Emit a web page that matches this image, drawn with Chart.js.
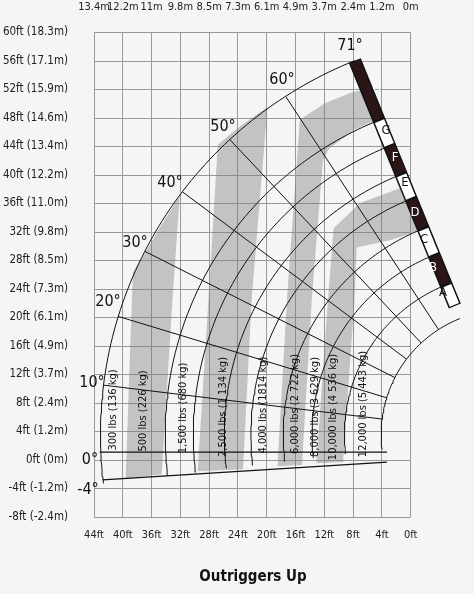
<!DOCTYPE html>
<html>
<head>
<meta charset="utf-8">
<script src="https://cdn.jsdelivr.net/npm/chart.js@4/dist/chart.umd.min.js"></script>
<style>
  body { margin: 0; background: #f5f5f5; }
  #wrap { width: 474px; height: 594px; }
</style>
</head>
<body>
<div id="wrap"><canvas id="chart"></canvas></div>
<script>
// axes
const xTicksFt = [44, 40, 36, 32, 28, 24, 20, 16, 12, 8, 4, 0];
const xTicksM = ['13.4m', '12.2m', '11m', '9.8m', '8.5m', '7.3m', '6.1m', '4.9m', '3.7m', '2.4m', '1.2m', '0m'];
const yTicksFt = [60, 56, 52, 48, 44, 40, 36, 32, 28, 24, 20, 16, 12, 8, 4, 0, -4, -8];
const yTicksM = ['18.3m', '17.1m', '15.9m', '14.6m', '13.4m', '12.2m', '11.0m', '9.8m', '8.5m', '7.3m', '6.1m', '4.9m', '3.7m', '2.4m', '1.2m', '0m', '-1.2m', '-2.4m'];

// boom geometry (ft), drawn angles are label angle minus 3
const pivot = { x: -13.4, y: 3.6 };
const arcRadii = [56.5, 47.5, 43.6, 39.3, 35.6, 31.1, 27.1, 22.6, 17.5];
const angleLabels = [71, 60, 50, 40, 30, 20, 10, 0, -4];
const radialAngles = [60, 50, 40, 30, 20, 10];
const zeroLine = [[43.2, 1.1], [3.3, 1.1]];
const floorLine = [[42.8, -2.8], [3.3, -0.3]];
const boomSections = ['A', 'B', 'C', 'D', 'E', 'F', 'G', 'H'];
const boomBounds = [19.4, 22.6, 27.1, 31.1, 35.6, 39.3, 43.6, 47.5, 56.5];

// load zones
const loadLabels = ['300 lbs (136 kg)', '500 lbs (226 kg)', '1,500 lbs (680 kg)', '2,500 lbs (1 134 kg)',
  '4,000 lbs (1814 kg)', '6,000 lbs (2 722 kg)', '8,000 lbs (3 629 kg)', '10,000 lbs (4 536 kg)', '12,000 lbs (5 443 kg)'];
const band1 = [[39.6, -2.6], [38.6, 26.3], [36.9, 29.1], [34.9, 32.5], [32.1, 37.0], [33.1, 22.4], [34.6, -2.0]];
const band2 = [[29.6, -1.6], [28.1, 22.4], [26.8, 44.2], [23.8, 46.7], [19.9, 49.5], [22.1, 22.4], [23.3, -1.3]];
const band3 = [[18.5, -0.9], [17.2, 22.4], [15.4, 47.7], [11.9, 50.0], [8.5, 51.4], [5.4, 52.3], [3.9, 48.1],
  [7.8, 46.3], [11.3, 43.7], [12.2, 42.0], [13.75, 22.4], [15.1, -0.7]];
const band4 = [[13.1, -0.45], [11.5, 22.4], [10.7, 32.5], [7.1, 36.0], [1.5, 38.1], [-1.0, 32.0],
  [2.9, 30.8], [7.5, 29.8], [7.8, 22.4], [9.4, -0.3]];

const FONT = '"DejaVu Sans Condensed", "Liberation Sans Narrow", sans-serif';
const rad = d => (d - 3) * Math.PI / 180;
const polar = (r, deg) => ({ x: pivot.x + r * Math.cos(rad(deg)), y: pivot.y + r * Math.sin(rad(deg)) });

function arcPoints(r) {
  const pts = [];
  for (let a = -4; a <= 71; a += 1) pts.push(polar(r, a));
  return pts;
}

const toPts = list => list.map(p => ({ x: p[0], y: p[1] }));

const datasets = [];
[band1, band2, band3, band4].forEach(b => {
  const pts = toPts(b);
  pts.push(pts[0]);
  datasets.push({ data: pts, borderWidth: 0, borderColor: 'rgba(0,0,0,0)',
    backgroundColor: 'rgba(120,120,120,0.4)', fill: 'shape', order: 10 });
});
arcRadii.forEach(r => {
  datasets.push({ data: arcPoints(r), borderColor: '#111', borderWidth: 1, fill: false, order: 5 });
});
radialAngles.forEach(a => {
  datasets.push({ data: [polar(17.5, a), polar(56.5, a)], borderColor: '#111', borderWidth: 1, fill: false, order: 5 });
});
[zeroLine, floorLine].forEach(l => {
  datasets.push({ data: toPts(l), borderColor: '#111', borderWidth: 1.2, fill: false, order: 5 });
});
// boom outline then sections
datasets.push({ data: [polar(boomBounds[0], 71), polar(boomBounds[8], 71)], borderColor: '#111',
  borderWidth: 13, fill: false, order: 2 });
boomSections.forEach((s, i) => {
  datasets.push({ data: [polar(boomBounds[i] + 0.15, 71), polar(boomBounds[i + 1] - 0.15, 71)],
    borderColor: i % 2 ? '#2a1616' : '#ffffff', borderWidth: 10, borderCapStyle: 'butt', fill: false, order: 1 });
});

const textPlugin = {
  id: 'texts',
  beforeDatasetsDraw(chart) {
    const { ctx, scales: { x, y } } = chart;
    ctx.save();
    ctx.strokeStyle = '#999';
    ctx.lineWidth = 1;
    yTicksFt.forEach(v => {
      const py = Math.round(y.getPixelForValue(v)) + 0.5;
      ctx.beginPath();
      ctx.moveTo(x.getPixelForValue(44), py);
      ctx.lineTo(x.getPixelForValue(0), py);
      ctx.stroke();
    });
    ctx.restore();
  },
  afterDatasetsDraw(chart) {
    const { ctx } = chart;
    ctx.save();
    ctx.fillStyle = '#111';
    ctx.textAlign = 'center';
    ctx.textBaseline = 'middle';
    ctx.font = '16px ' + FONT;
    const anglePos = [[350, 46], [282, 80], [223, 127], [170, 183], [135, 243], [108, 302], [92, 383], [90, 460], [88, 490]];
    angleLabels.forEach((a, i) => ctx.fillText(a + '°', anglePos[i][0], anglePos[i][1]));
    ctx.font = '13px ' + FONT;
    const letterPos = [[443, 293], [433, 268], [424, 240], [415, 213], [405, 183], [395, 158], [386, 131], [377, 87]];
    boomSections.forEach((s, i) => {
      ctx.fillStyle = i % 2 ? '#fff' : '#111';
      ctx.fillText(s, letterPos[i][0], letterPos[i][1]);
    });
    ctx.fillStyle = '#111';
    ctx.font = '11px ' + FONT;
    const loadX = [113, 143, 183, 223, 263, 295, 315, 333, 363];
    const loadY = [410, 411, 408, 407, 405, 404, 407, 407, 404];
    loadLabels.forEach((t, i) => {
      ctx.save();
      ctx.translate(loadX[i], loadY[i]);
      ctx.rotate(-Math.PI / 2);
      ctx.fillText(t, 0, 0);
      ctx.restore();
    });
    ctx.font = 'bold 15px ' + FONT;
    ctx.fillText('Outriggers Up', 253, 577);
    ctx.restore();
  }
};

const ftTicks = axis => { axis.ticks = xTicksFt.map(v => ({ value: v })); };
const tickFont = { family: FONT, size: 11 };

new Chart(document.getElementById('chart'), {
  type: 'line',
  data: { datasets },
  options: {
    responsive: true,
    maintainAspectRatio: false,
    animation: false,
    elements: { point: { radius: 0 }, line: { tension: 0 } },
    layout: { padding: 0 },
    plugins: { legend: { display: false }, tooltip: { enabled: false } },
    scales: {
      x: {
        type: 'linear', reverse: true, min: -8.8, max: 44,
        afterBuildTicks: ftTicks,
        afterFit: s => { s.height = 77; },
        border: { display: false },
        grid: { color: '#999', drawTicks: false },
        ticks: { padding: 12, color: '#222', font: tickFont, maxRotation: 0, autoSkip: false,
          callback: v => v + 'ft' }
      },
      x2: {
        type: 'linear', position: 'top', reverse: true, min: -8.8, max: 44,
        afterBuildTicks: ftTicks,
        afterFit: s => { s.height = 32; },
        border: { display: false },
        grid: { display: false },
        ticks: { padding: 10, color: '#222', font: tickFont, maxRotation: 0, autoSkip: false,
          callback: v => xTicksM[xTicksFt.indexOf(v)] }
      },
      y: {
        type: 'linear', min: -8, max: 60,
        afterBuildTicks: axis => { axis.ticks = yTicksFt.map(v => ({ value: v })); },
        afterFit: s => { s.width = 94; },
        border: { display: false },
        grid: { display: false },
        ticks: { padding: 18, color: '#222', font: { family: FONT, size: 11.5 },
          callback: v => v + 'ft (' + yTicksM[yTicksFt.indexOf(v)] + ')' }
      }
    }
  },
  plugins: [textPlugin]
});
</script>
</body>
</html>
